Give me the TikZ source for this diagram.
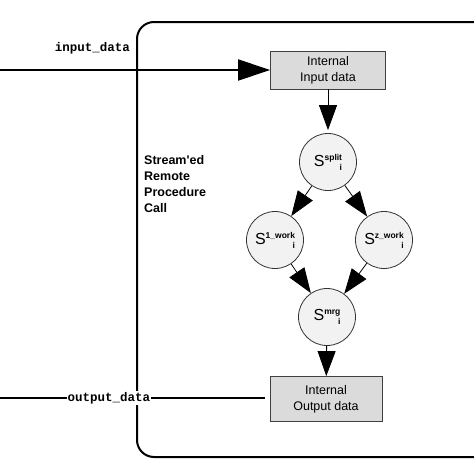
\documentclass[tikz,border=0pt]{standalone}
\usepackage{fontspec}
\setmainfont{Liberation Sans}
\setmonofont{Liberation Mono}
\usetikzlibrary{arrows.meta}
\newcommand\stlab[1]{S\raisebox{6.5pt}{\fontsize{8.5}{9}\selectfont\bfseries #1}\llap{\raisebox{-3.5pt}{\fontsize{8.5}{9}\selectfont\bfseries i}}}
\begin{document}
\begin{tikzpicture}[x=1pt,y=-1pt,
  box/.style={draw=black!75,line width=0.8pt,fill=black!14,minimum width=115pt,minimum height=38pt,align=center,inner sep=0pt,font=\fontsize{12.5}{16}\selectfont},
  state/.style={circle,draw=black!80,line width=0.8pt,fill=black!5,minimum size=57pt,inner sep=0pt,font=\fontsize{16}{18}\selectfont},
  conn/.style={line width=0.8pt,-{Triangle[length=25pt,width=18pt]}},
  heavy/.style={line width=2pt},
  lbl/.style={font=\ttfamily\bfseries\fontsize{12.5}{14}\selectfont,inner sep=1pt}]
\useasboundingbox (0,0) rectangle (474,474);
\fill[white] (0,0) rectangle (474,474);
% enclosing rounded frame (open on the right)
\draw[heavy,rounded corners=17pt] (476,22) -- (137,22) -- (137,457) -- (476,457);
% nodes
\node[box] (inbox) at (328,70) {Internal\\Input data};
\node[box,minimum width=112pt,minimum height=45pt] (outbox) at (326,399) {Internal\\Output data};
\node[state] (split) at (328,162) {\stlab{split}};
\node[state] (work1) at (275,240) {\stlab{1\_work}};
\node[state] (workz) at (384,240) {\stlab{z\_work}};
\node[state] (mrg) at (327,317) {\stlab{mrg}};
\node[anchor=north west,inner sep=0pt,align=left,font=\bfseries\fontsize{12.5}{16}\selectfont] (rpc) at (144,155) {Stream\textquotesingle ed\\Remote\\Procedure\\Call};
% free ends
\coordinate (inL) at (0,70);
\coordinate (outL) at (0,398);
\coordinate (outR) at (265,398);
% connectors
\draw[heavy,-{Triangle[length=32pt,width=21pt]}] (inL) -- (inbox.west);
\draw[heavy] (outR) -- (outL);
\draw[conn,shorten >=3pt] (inbox) -- (split);
\draw[conn] (split) -- (work1);
\draw[conn] (split) -- (workz);
\draw[conn] (work1) -- (mrg);
\draw[conn] (workz) -- (mrg);
\draw[conn] (mrg) -- (outbox);
% labels
\node[lbl,anchor=east] (inlabel) at (131,48) {input\_data};
\node[lbl,fill=white] (outlabel) at (109,398) {output\_data};
\end{tikzpicture}
\end{document}
